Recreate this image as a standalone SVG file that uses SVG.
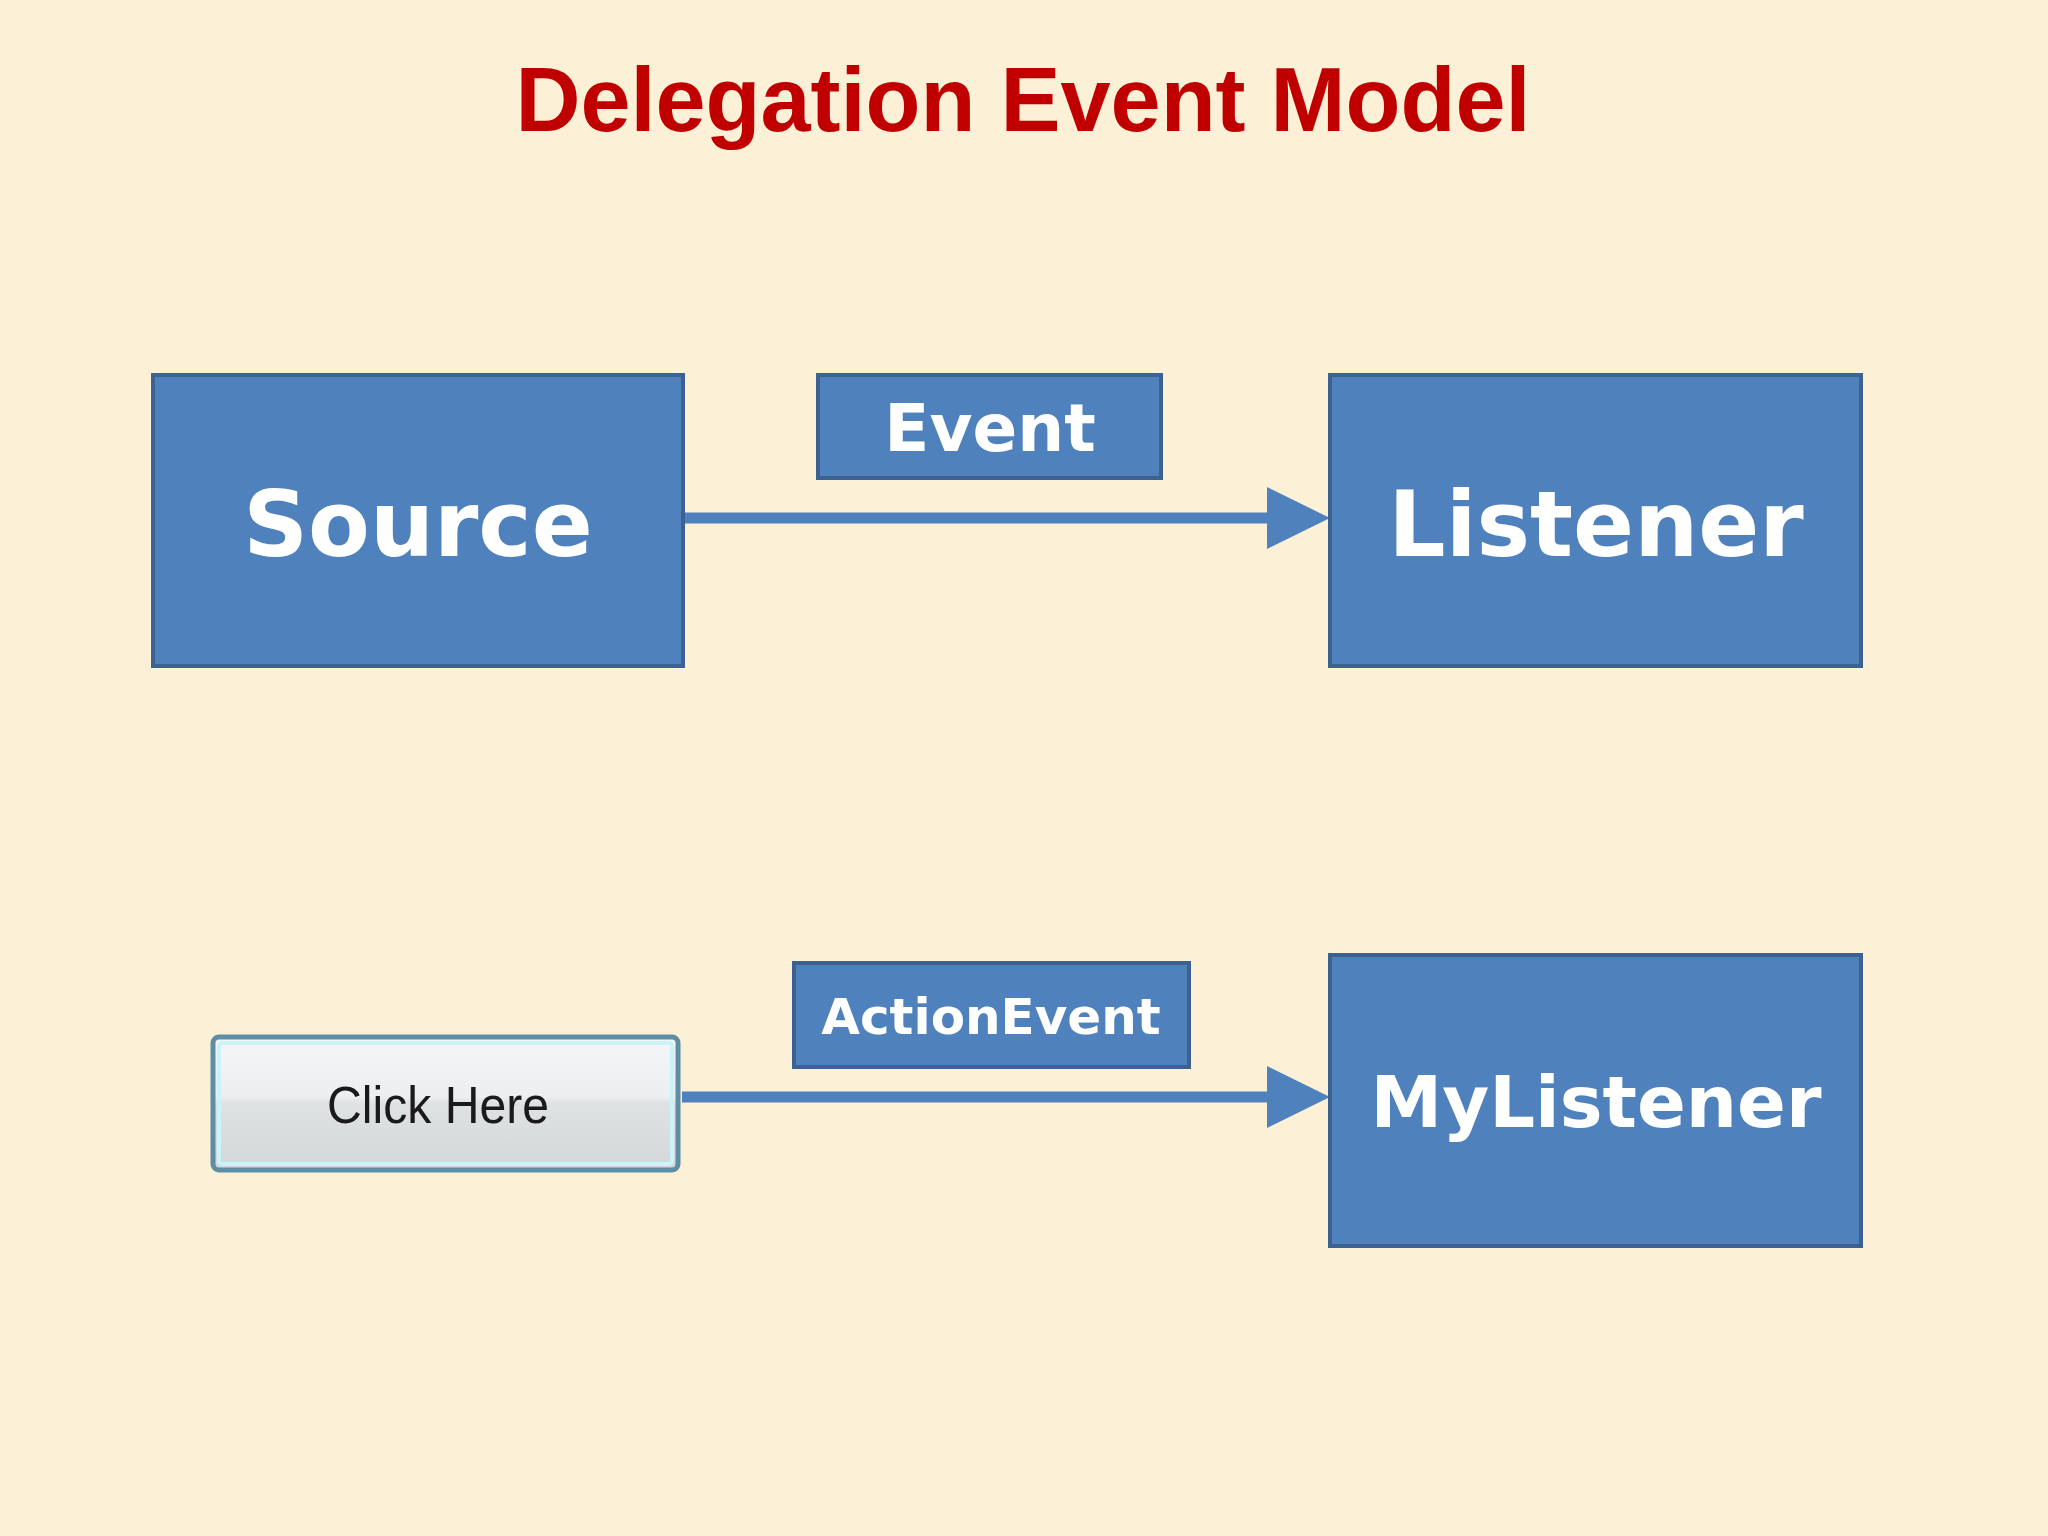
<svg xmlns="http://www.w3.org/2000/svg" width="2048" height="1536" viewBox="0 0 2048 1536">
  <defs>
    <style>
      .box { fill: #4f81bd; stroke: #3b6290; stroke-width: 4; }
      .lbl { font-family: "DejaVu Sans", Verdana, sans-serif; font-weight: bold; fill: #ffffff; text-anchor: middle; }
      .conn { stroke: #4f81bd; stroke-width: 11; fill: none; }
      .head { fill: #4f81bd; }
    </style>
    <linearGradient id="btnGrad" x1="0" y1="0" x2="0" y2="1">
      <stop offset="0" stop-color="#f4f6f7"/>
      <stop offset="0.45" stop-color="#eceeef"/>
      <stop offset="0.5" stop-color="#dfe2e3"/>
      <stop offset="1" stop-color="#d3d7d9"/>
    </linearGradient>
  </defs>
  <rect x="0" y="0" width="2048" height="1536" fill="#fcf0d6"/>

  <text x="1023" y="131" font-family="'Liberation Sans', Arial, sans-serif" font-weight="bold" font-size="90" fill="#c00000" text-anchor="middle">Delegation Event Model</text>

  <g id="connectors">
    <line class="conn" x1="684" y1="518" x2="1272" y2="518"/>
    <polygon class="head" points="1267,487 1330,518 1267,549"/>
    <line class="conn" x1="682" y1="1097" x2="1272" y2="1097"/>
    <polygon class="head" points="1267,1066 1330,1097 1267,1128"/>
  </g>

  <g id="source">
    <rect class="box" x="153" y="375" width="530" height="291"/>
    <text class="lbl" x="418" y="556" font-size="90">Source</text>
  </g>
  <g id="event">
    <rect class="box" x="818" y="375" width="343" height="103"/>
    <text class="lbl" x="990" y="451" font-size="66">Event</text>
  </g>
  <g id="listener">
    <rect class="box" x="1330" y="375" width="531" height="291"/>
    <text class="lbl" x="1596" y="556" font-size="90">Listener</text>
  </g>
  <g id="button">
    <rect x="213" y="1037" width="465" height="133" rx="6" fill="url(#btnGrad)" stroke="#5d8ea6" stroke-width="5"/>
    <rect x="219" y="1043" width="453" height="121" rx="3" fill="none" stroke="#cdf3fa" stroke-width="4"/>
    <text x="438" y="1123" font-family="'Liberation Sans', Tahoma, sans-serif" font-size="52" fill="#1a1a1a" text-anchor="middle" textLength="222" lengthAdjust="spacingAndGlyphs">Click Here</text>
  </g>
  <g id="actionevent">
    <rect class="box" x="794" y="963" width="395" height="104"/>
    <text class="lbl" x="991" y="1034" font-size="50">ActionEvent</text>
  </g>
  <g id="mylistener">
    <rect class="box" x="1330" y="955" width="531" height="291"/>
    <text class="lbl" x="1596" y="1127" font-size="72">MyListener</text>
  </g>
</svg>
